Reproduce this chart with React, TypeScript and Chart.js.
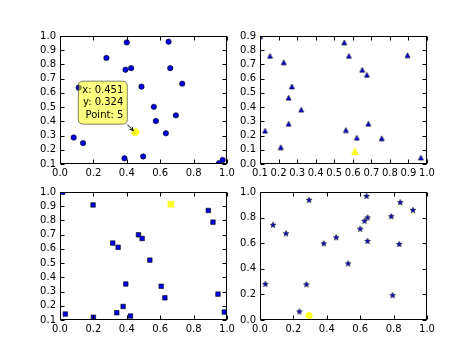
import React, { useEffect, useRef } from "react";
import { Chart, registerables } from "chart.js";

Chart.register(...registerables);

// ---------- data ----------
const circX = [0.400, 0.650, 0.278, 0.392, 0.426, 0.660, 0.732, 0.112, 0.488, 0.562, 0.694, 0.574, 0.634, 0.082, 0.138, 0.386, 0.498, 0.974, 0.952];
const circY = [0.955, 0.960, 0.846, 0.763, 0.774, 0.774, 0.665, 0.637, 0.644, 0.502, 0.442, 0.402, 0.316, 0.286, 0.247, 0.140, 0.153, 0.128, 0.105];
const circHi = [0.451, 0.324];
const circHiIndex = 5;

const triX = [0.101, 0.154, 0.228, 0.554, 0.579, 0.895, 0.651, 0.676, 0.272, 0.254, 0.322, 0.254, 0.127, 0.563, 0.684, 0.622, 0.756, 0.212, 0.967];
const triY = [0.899, 0.760, 0.715, 0.855, 0.760, 0.765, 0.662, 0.627, 0.545, 0.466, 0.382, 0.283, 0.234, 0.239, 0.283, 0.185, 0.181, 0.118, 0.045];
const triHi = [0.611, 0.091];

const sqX = [0.015, 0.198, 0.888, 0.916, 0.316, 0.348, 0.470, 0.492, 0.538, 0.394, 0.606, 0.628, 0.946, 0.032, 0.200, 0.340, 0.378, 0.422, 0.984];
const sqY = [0.998, 0.909, 0.870, 0.788, 0.641, 0.611, 0.699, 0.673, 0.521, 0.353, 0.337, 0.256, 0.282, 0.142, 0.119, 0.151, 0.195, 0.128, 0.156];
const sqHi = [0.664, 0.914];

const starX = [0.294, 0.638, 0.840, 0.916, 0.078, 0.156, 0.786, 0.644, 0.626, 0.600, 0.456, 0.382, 0.644, 0.834, 0.528, 0.032, 0.278, 0.794, 0.236];
const starY = [0.938, 0.969, 0.920, 0.860, 0.744, 0.677, 0.811, 0.801, 0.775, 0.713, 0.646, 0.599, 0.618, 0.594, 0.442, 0.282, 0.279, 0.194, 0.067];
const starHi = [0.294, 0.036];

// tick values
const ticks0to1by02 = [0, 0.2, 0.4, 0.6, 0.8, 1.0];
const ticks01to10 = [0.1, 0.2, 0.3, 0.4, 0.5, 0.6, 0.7, 0.8, 0.9, 1.0];
const ticks00to09 = [0.0, 0.1, 0.2, 0.3, 0.4, 0.5, 0.6, 0.7, 0.8, 0.9];

// ---------- layout ----------
const AX_W = 167;
const AX_H = 128;
const PAD_L = 44;
const PAD_T = 10;
const PAD_R = 16;
const PAD_B = 24;
const FONT = { family: "'DejaVu Sans', sans-serif", size: 10 };

function triangleCanvas(size: number, fill: string, stroke: string | null, lw: number) {
  const s = Math.ceil(size + 2);
  const c = document.createElement("canvas");
  c.width = s;
  c.height = s;
  const g = c.getContext("2d")!;
  const cx = s / 2, cy = s / 2, r = size / 2;
  g.beginPath();
  g.moveTo(cx, cy - r);
  g.lineTo(cx - r, cy + r);
  g.lineTo(cx + r, cy + r);
  g.closePath();
  g.fillStyle = fill;
  g.fill();
  if (stroke && lw > 0) {
    g.strokeStyle = stroke;
    g.lineWidth = lw;
    g.stroke();
  }
  return c;
}

function starCanvas(size: number, fill: string, stroke: string | null, lw: number) {
  const s = Math.ceil(size + 2);
  const c = document.createElement("canvas");
  c.width = s;
  c.height = s;
  const g = c.getContext("2d")!;
  const cx = s / 2, cy = s / 2 + 0.3, R = size / 2, r = R * 0.4;
  g.beginPath();
  for (let i = 0; i < 10; i++) {
    const a = -Math.PI / 2 + (i * Math.PI) / 5;
    const rad = i % 2 === 0 ? R : r;
    const x = cx + Math.cos(a) * rad, y = cy + Math.sin(a) * rad;
    if (i === 0) g.moveTo(x, y);
    else g.lineTo(x, y);
  }
  g.closePath();
  g.fillStyle = fill;
  g.fill();
  if (stroke && lw > 0) {
    g.strokeStyle = stroke;
    g.lineWidth = lw;
    g.stroke();
  }
  return c;
}

const framePlugin = {
  id: "mplFrame",
  afterDatasetsDraw(chart: any) {
    const { ctx, chartArea: a, scales } = chart;
    ctx.save();
    ctx.strokeStyle = "#000";
    ctx.lineWidth = 1;
    const l = Math.round(a.left) + 0.5, r = Math.round(a.right) - 0.5;
    const t = Math.round(a.top) + 0.5, b = Math.round(a.bottom) - 0.5;
    ctx.strokeRect(l, t, r - l, b - t);
    const TL = 4;
    ctx.beginPath();
    for (const tk of scales.x.ticks) {
      const x = Math.round(scales.x.getPixelForValue(tk.value)) + 0.5;
      ctx.moveTo(x, b); ctx.lineTo(x, b - TL);
      ctx.moveTo(x, t); ctx.lineTo(x, t + TL);
    }
    for (const tk of scales.y.ticks) {
      const y = Math.round(scales.y.getPixelForValue(tk.value)) + 0.5;
      ctx.moveTo(l, y); ctx.lineTo(l + TL, y);
      ctx.moveTo(r, y); ctx.lineTo(r - TL, y);
    }
    ctx.stroke();
    ctx.restore();
  },
};

function makeAnnotPlugin(hx: number, hy: number, idx: number) {
  return {
    id: "mplAnnot",
    afterDatasetsDraw(chart: any) {
      const { ctx, scales } = chart;
      const px = scales.x.getPixelForValue(hx);
      const py = scales.y.getPixelForValue(hy);
      ctx.save();
      const bx = px - 57, by = py - 51, bw = 49, bh = 43, rr = 5;
      ctx.beginPath();
      ctx.moveTo(bx + rr, by);
      ctx.lineTo(bx + bw - rr, by);
      ctx.quadraticCurveTo(bx + bw, by, bx + bw, by + rr);
      ctx.lineTo(bx + bw, by + bh - rr);
      ctx.quadraticCurveTo(bx + bw, by + bh, bx + bw - rr, by + bh);
      ctx.lineTo(bx + rr, by + bh);
      ctx.quadraticCurveTo(bx, by + bh, bx, by + bh - rr);
      ctx.lineTo(bx, by + rr);
      ctx.quadraticCurveTo(bx, by, bx + rr, by);
      ctx.closePath();
      ctx.fillStyle = "rgba(255,255,0,0.5)";
      ctx.fill();
      ctx.strokeStyle = "rgba(0,0,0,0.5)";
      ctx.lineWidth = 1;
      ctx.stroke();

      ctx.fillStyle = "#000";
      ctx.font = "10px 'DejaVu Sans', sans-serif";
      ctx.textAlign = "right";
      ctx.textBaseline = "middle";
      ctx.fillText(`x: ${hx.toFixed(3)}`, px - 12, py - 42);
      ctx.fillText(`y: ${hy.toFixed(3)}`, px - 12, py - 29.5);
      ctx.fillText(`Point: ${idx}`, px - 12, py - 17);

      // arrow
      const x0 = px - 8, y0 = py - 7.5, x1 = px - 2, y1 = py - 1.5;
      ctx.strokeStyle = "#000";
      ctx.lineWidth = 1;
      ctx.beginPath();
      ctx.moveTo(x0, y0);
      ctx.lineTo(x1, y1);
      const ang = Math.atan2(y1 - y0, x1 - x0);
      const hl = 4;
      ctx.moveTo(x1 - hl * Math.cos(ang - 0.45), y1 - hl * Math.sin(ang - 0.45));
      ctx.lineTo(x1, y1);
      ctx.lineTo(x1 - hl * Math.cos(ang + 0.45), y1 - hl * Math.sin(ang + 0.45));
      ctx.stroke();
      ctx.restore();
    },
  };
}

type PanelSpec = {
  left: number;
  top: number;
  xMin: number; xMax: number; xTicks: number[];
  yMin: number; yMax: number; yTicks: number[];
  xs: number[]; ys: number[];
  hi: number[];
  kind: "circle" | "triangle" | "square" | "star";
};

const panels: PanelSpec[] = [
  { left: 60, top: 36, xMin: 0, xMax: 1, xTicks: ticks0to1by02, yMin: 0.1, yMax: 1.0, yTicks: ticks01to10, xs: circX, ys: circY, hi: circHi, kind: "circle" },
  { left: 260, top: 36, xMin: 0.1, xMax: 1.0, xTicks: ticks01to10, yMin: 0, yMax: 0.9, yTicks: ticks00to09, xs: triX, ys: triY, hi: triHi, kind: "triangle" },
  { left: 60, top: 192, xMin: 0, xMax: 1, xTicks: ticks0to1by02, yMin: 0.1, yMax: 1.0, yTicks: ticks01to10, xs: sqX, ys: sqY, hi: sqHi, kind: "square" },
  { left: 260, top: 192, xMin: 0, xMax: 1, xTicks: ticks0to1by02, yMin: 0, yMax: 1.0, yTicks: ticks0to1by02, xs: starX, ys: starY, hi: starHi, kind: "star" },
];

function buildChart(canvas: HTMLCanvasElement, p: PanelSpec, i: number) {
  const blue = "#0000e6";
  const hiColor = "rgba(255,255,0,0.85)";
  let mainStyle: any = "circle", mainRadius = 2.7, hiStyle: any = "circle", hiRadius = 3.8;
  if (p.kind === "triangle") {
    mainStyle = triangleCanvas(5, blue, "#000", 0.6);
    hiStyle = triangleCanvas(8, hiColor, null, 0);
  } else if (p.kind === "square") {
    mainStyle = "rect"; mainRadius = 3.2;
    hiStyle = "rect"; hiRadius = 4.7;
  } else if (p.kind === "star") {
    mainStyle = starCanvas(6, blue, "#000", 0.6);
    hiStyle = "circle"; hiRadius = 3.5;
  }
  const mainData = p.xs.map((x, k) => ({ x, y: p.ys[k] }));
  const hiData = [{ x: p.hi[0], y: p.hi[1] }];

  const fmt = (v: any) => Number(v).toFixed(1);
  const plugins: any[] = [framePlugin];
  if (i === 0) plugins.push(makeAnnotPlugin(circHi[0], circHi[1], circHiIndex));

  return new Chart(canvas, {
    type: "scatter",
    data: {
      datasets: [
        {
          data: hiData,
          pointStyle: hiStyle,
          pointRadius: hiRadius,
          backgroundColor: hiColor,
          borderColor: hiColor,
          borderWidth: 0,
          clip: 0,
        } as any,
        {
          data: mainData,
          pointStyle: mainStyle,
          pointRadius: mainRadius,
          backgroundColor: blue,
          borderColor: "#000",
          borderWidth: 0.6,
          clip: 0,
        } as any,
      ],
    },
    plugins,
    options: {
      animation: false,
      responsive: false,
      devicePixelRatio: 1,
      events: [],
      layout: { padding: { left: 0, top: PAD_T, right: PAD_R, bottom: 0 } },
      plugins: { legend: { display: false }, tooltip: { enabled: false } },
      scales: {
        x: {
          type: "linear",
          position: "bottom",
          min: p.xMin,
          max: p.xMax,
          afterBuildTicks: (s: any) => { s.ticks = p.xTicks.map((v) => ({ value: v })); },
          afterFit: (s: any) => { s.height = PAD_B; },
          ticks: { callback: fmt, autoSkip: false, maxRotation: 0, minRotation: 0, padding: 3, color: "#000", font: FONT },
          grid: { display: false, drawTicks: false },
          border: { display: false },
        },
        y: {
          type: "linear",
          position: "left",
          min: p.yMin,
          max: p.yMax,
          afterBuildTicks: (s: any) => { s.ticks = p.yTicks.map((v) => ({ value: v })); },
          afterFit: (s: any) => { s.width = PAD_L; },
          ticks: { callback: fmt, autoSkip: false, padding: 4, color: "#000", font: FONT },
          grid: { display: false, drawTicks: false },
          border: { display: false },
        },
      },
    } as any,
  });
}

export default function App() {
  const refs = [useRef<HTMLCanvasElement>(null), useRef<HTMLCanvasElement>(null), useRef<HTMLCanvasElement>(null), useRef<HTMLCanvasElement>(null)];

  useEffect(() => {
    const charts = panels.map((p, i) => buildChart(refs[i].current!, p, i));
    return () => charts.forEach((c) => c.destroy());
  }, []);

  const cw = AX_W + PAD_L + PAD_R;
  const ch = AX_H + PAD_T + PAD_B;
  return (
    <div style={{ position: "fixed", left: 0, top: 0, width: 474, height: 357, background: "#fff" }}>
      {panels.map((p, i) => (
        <canvas
          key={i}
          ref={refs[i]}
          width={cw}
          height={ch}
          style={{ position: "absolute", left: p.left - PAD_L, top: p.top - PAD_T, width: cw, height: ch }}
        />
      ))}
    </div>
  );
}
